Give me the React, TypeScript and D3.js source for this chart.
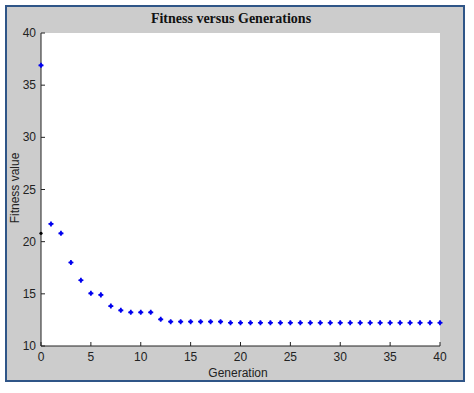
import React from "react";
import * as d3 from "d3";

const generations = [0,1,2,3,4,5,6,7,8,9,10,11,12,13,14,15,16,17,18,19,20,21,22,23,24,25,26,27,28,29,30,31,32,33,34,35,36,37,38,39,40];
const fitness = [36.9,21.7,20.8,18.0,16.3,15.05,14.9,13.83,13.42,13.23,13.23,13.23,12.56,12.33,12.33,12.33,12.33,12.33,12.33,12.23,12.23,12.23,12.23,12.23,12.23,12.23,12.23,12.23,12.23,12.23,12.23,12.23,12.23,12.23,12.23,12.23,12.23,12.23,12.23,12.23,12.23];
const extraPoint = { gen: 0, value: 20.8 };
const xTicks = [0,5,10,15,20,25,30,35,40];
const yTicks = [10,15,20,25,30,35,40];
const title = "Fitness versus Generations";
const xLabel = "Generation";
const yLabel = "Fitness value";

export default function App() {
  const W = 474, H = 393;
  const left = 41, right = 440, top = 33, bottom = 346;
  const x = d3.scaleLinear().domain([0, 40]).range([left, right]);
  const y = d3.scaleLinear().domain([10, 40]).range([bottom, top]);
  const sans = "'Liberation Sans', Arial, sans-serif";
  const star = d3.symbol().type(d3.symbolCross).size(14)() as string;
  return (
    <svg width={W} height={H} style={{ position: "absolute", left: 0, top: 0 }}>
      <rect x={0} y={0} width={W} height={H} fill="#ffffff" />
      <rect x={6} y={6} width={458} height={375} fill="#cccccc" stroke="#2f5587" strokeWidth={2} />
      <rect x={left} y={top} width={right - left} height={bottom - top} fill="#ffffff" />
      <text x={231} y={23} textAnchor="middle" fontFamily="'Liberation Serif', 'Times New Roman', serif" fontWeight="bold" fontSize={14} fill="#111">{title}</text>
      <line x1={left} y1={top} x2={left} y2={bottom} stroke="#222" strokeWidth={1} />
      <line x1={left} y1={bottom} x2={right} y2={bottom} stroke="#222" strokeWidth={1} />
      {xTicks.map((t) => (
        <g key={"x" + t}>
          <line x1={x(t)} x2={x(t)} y1={bottom} y2={bottom - 4} stroke="#222" />
          <text x={x(t)} y={361} textAnchor="middle" fontFamily={sans} fontSize={12} fill="#222">{t}</text>
        </g>
      ))}
      {yTicks.map((t) => (
        <g key={"y" + t}>
          <line x1={left} x2={left + 4} y1={y(t)} y2={y(t)} stroke="#222" />
          <text x={36} y={y(t) + 4} textAnchor="end" fontFamily={sans} fontSize={12} fill="#222">{t}</text>
        </g>
      ))}
      <text x={238} y={377} textAnchor="middle" fontFamily={sans} fontSize={12} fill="#222">{xLabel}</text>
      <text transform={`translate(19,188) rotate(-90)`} textAnchor="middle" fontFamily={sans} fontSize={12} fill="#222">{yLabel}</text>
      {generations.map((g, i) => (
        <g key={"p" + i} transform={`translate(${x(g)},${y(fitness[i])})`}>
          <circle r={1.8} fill="#0000ee" />
          <path d={star} fill="#0000ee" />
        </g>
      ))}
      <circle cx={x(extraPoint.gen)} cy={y(extraPoint.value)} r={1.6} fill="#000" />
    </svg>
  );
}
